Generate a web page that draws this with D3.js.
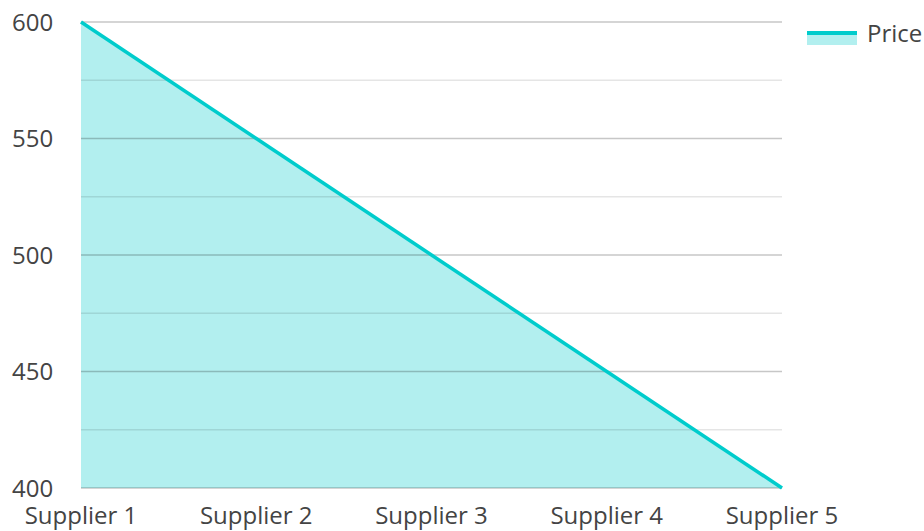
<!DOCTYPE html>
<html>
<head>
<meta charset="utf-8">
<script src="https://cdn.jsdelivr.net/npm/d3@7"></script>
<style>
  body { margin: 0; background: #fff; }
  text { font-family: "Open Sans", sans-serif; }
</style>
</head>
<body>
<div id="chart"></div>
<script>
var suppliers = ["Supplier 1", "Supplier 2", "Supplier 3", "Supplier 4", "Supplier 5"]
var prices = [600, 550, 500, 450, 400]
var seriesName = "Price"
var yTicks = [400, 450, 500, 550, 600]
var yMinor = [425, 475, 525, 575]

var width = 924, height = 531
var margin = {top: 22, right: 142, bottom: 43, left: 81}
var lineColor = "#00cccc"
var fillColor = "#b2efef"

var svg = d3.select("#chart").append("svg")
    .attr("width", width)
    .attr("height", height)

var g = svg.append("g").attr("transform", "translate(" + margin.left + "," + margin.top + ")")
var w = width - margin.left - margin.right
var h = height - margin.top - margin.bottom

var x = d3.scalePoint().domain(suppliers).range([0, w])
var y = d3.scaleLinear().domain([400, 600]).range([h, 0])

var data = suppliers.map(function(s, i) { return {name: s, value: prices[i]} })

// area first, gridlines drawn on top so they show through
g.append("path")
    .datum(data)
    .attr("fill", fillColor)
    .attr("d", d3.area()
        .x(function(d) { return x(d.name) })
        .y0(h)
        .y1(function(d) { return y(d.value) }))

g.selectAll(".minor")
    .data(yMinor)
    .enter().append("line")
    .attr("class", "minor")
    .attr("x1", 0).attr("x2", w)
    .attr("y1", d => y(d)).attr("y2", d => y(d))
    .attr("stroke", "rgba(0,0,0,0.1)")
    .attr("stroke-width", 1.5)

g.selectAll(".major")
    .data(yTicks)
    .enter().append("line")
    .attr("class", "major")
    .attr("x1", 0).attr("x2", w)
    .attr("y1", d => y(d)).attr("y2", d => y(d))
    .attr("stroke", "rgba(0,0,0,0.22)")
    .attr("stroke-width", 1.5)

g.append("path")
    .datum(data)
    .attr("fill", "none")
    .attr("stroke", lineColor)
    .attr("stroke-width", 3.5)
    .attr("d", d3.line()
        .x(function(d) { return x(d.name) })
        .y(function(d) { return y(d.value) }))

// y labels
svg.selectAll(".ylab")
    .data(yTicks)
    .enter().append("text")
    .attr("class", "ylab")
    .attr("x", 12)
    .attr("y", d => margin.top + y(d) + 8.5)
    .attr("font-size", 24)
    .attr("fill", "#444")
    .text(d => d)

// x labels
svg.selectAll(".xlab")
    .data(suppliers)
    .enter().append("text")
    .attr("class", "xlab")
    .attr("x", d => margin.left + x(d))
    .attr("y", 524)
    .attr("text-anchor", "middle")
    .attr("font-size", 24)
    .attr("fill", "#444")
    .text(d => d)

// legend
var leg = svg.append("g").attr("transform", "translate(807,0)")
leg.append("rect").attr("x", 0).attr("y", 34).attr("width", 50).attr("height", 11).attr("fill", fillColor)
leg.append("rect").attr("x", 0).attr("y", 31).attr("width", 50).attr("height", 4).attr("fill", lineColor)
leg.append("text")
    .attr("x", 60)
    .attr("y", 42)
    .attr("font-size", 24)
    .attr("fill", "#444")
    .text(seriesName)
</script>
</body>
</html>
